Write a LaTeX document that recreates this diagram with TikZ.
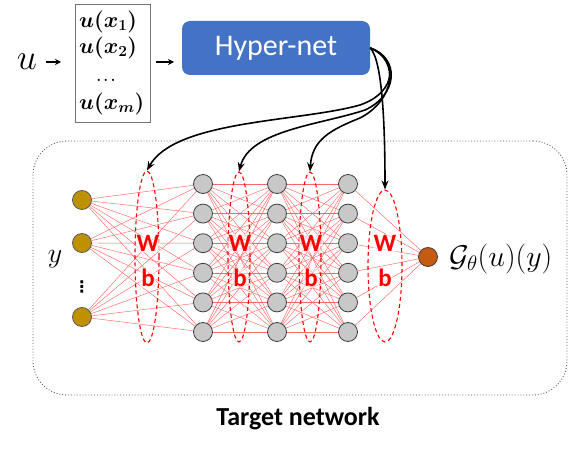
\RequirePackage{fix-cm}
\documentclass[tikz,border=0pt]{standalone}
\usepackage{fontspec}
\usepackage{bm}
\usetikzlibrary{arrows.meta,shapes.geometric}
\newfontfamily\calfont{Carlito}
\newfontfamily\dejafont{DejaVu Sans}
\definecolor{hnblue}{HTML}{4472C4}
\definecolor{ingold}{HTML}{BF9000}
\definecolor{outorange}{HTML}{C55A11}
\definecolor{hidgray}{HTML}{C8C8C8}
\pgfdeclarelayer{bg}
\pgfsetlayers{bg,main}
\tikzset{
  innode/.style={circle,fill=ingold,draw=black!65,line width=0.8pt,minimum size=19pt,inner sep=0pt},
  hidnode/.style={circle,fill=hidgray,draw=black!75,line width=0.8pt,minimum size=19pt,inner sep=0pt},
  outnode/.style={circle,fill=outorange,draw=black!75,line width=0.8pt,minimum size=19pt,inner sep=0pt},
  wbell/.style={ellipse,draw=red,dashed,line width=1.1pt,dash pattern=on 4pt off 3pt,inner sep=0pt},
  wblabel/.style={text=red,font=\calfont\fontsize{25}{27}\selectfont\bfseries,fill=white,fill opacity=0.55,text opacity=1,inner sep=1pt},
  conn/.style={red!60,line width=0.45pt},
  feed/.style={-{Stealth[length=9pt,width=7pt]},line width=1.6pt,black},
  small/.style={-{Stealth[length=6pt,width=6pt]},line width=1.3pt,black},
  listtxt/.style={font=\fontsize{22}{24}\selectfont,inner sep=0pt,anchor=west}
}
\begin{document}
\begin{tikzpicture}[x=1pt,y=-1pt]
\useasboundingbox (0,0) rectangle (582,457);
% target network frame
\node[draw=black!65,dotted,line width=0.9pt,rounded corners=34pt,minimum width=534pt,minimum height=254pt] (tn) at (300,268) {};
\node[font=\calfont\fontsize{26}{28}\selectfont\bfseries] (tnlabel) at (298,419) {Target network};
% input side
\node[font=\fontsize{36}{38}\selectfont,inner sep=0pt] (u) at (27,62) {$u$};
\node[draw=black!55,line width=0.8pt,minimum width=75pt,minimum height=118pt,inner sep=0pt] (lst) at (113,63) {};
\node[listtxt] (l1) at (79,22) {$\bm{u(x_1)}$};
\node[listtxt] (l2) at (79,48) {$\bm{u(x_2)}$};
\node[font=\fontsize{14}{16}\selectfont,inner sep=0pt] (l3) at (106,80) {$\bm{\ldots}$};
\node[listtxt] (l4) at (79,104) {$\bm{u(x_m)}$};
\node[fill=hnblue,rounded corners=8pt,minimum width=188pt,minimum height=54pt,text=white,font=\calfont\fontsize{30}{32}\selectfont] (hn) at (276,48) {Hyper-net};
\coordinate (a1s) at (46,62);
\coordinate (a1e) at (61,62);
\coordinate (a2s) at (156,62);
\coordinate (a2e) at (174,62);
\draw[small] (a1s) -- (a1e);
\draw[small] (a2s) -- (a2e);
% network nodes
\node[innode] (i1) at (82,200) {};
\node[innode] (i2) at (82,243) {};
\node[innode] (i3) at (82,317) {};
\node[font=\dejafont\bfseries\fontsize{16}{18}\selectfont,inner sep=0pt] (idots) at (82,287) {⋮};
\node[font=\fontsize{28}{30}\selectfont,inner sep=0pt] (ylab) at (55,259) {$y$};
\foreach \c/\x in {a/203,b/277,c/348}{
  \foreach \k in {1,...,6}{
    \pgfmathsetmacro{\yy}{184+(\k-1)*29.6}
    \node[hidnode] (\c\k) at (\x,\yy) {};
  }
}
\node[outnode] (o) at (428,257) {};
\node[font=\fontsize{30}{32}\selectfont,anchor=west,inner sep=0pt] (glab) at (449,259) {$\mathcal{G}_\theta(u)(y)$};
% connections
\begin{pgfonlayer}{bg}
\foreach \i in {1,2,3}{\foreach \k in {1,...,6}{\draw[conn] (i\i) -- (a\k);}}
\foreach \j in {1,...,6}{\foreach \k in {1,...,6}{\draw[conn] (a\j) -- (b\k); \draw[conn] (b\j) -- (c\k);}}
\foreach \k in {1,...,6}{\draw[conn] (c\k) -- (o);}
\end{pgfonlayer}
% W b ellipses
\node[wbell,minimum width=24pt,minimum height=172pt] (e1) at (147,257) {};
\node[wbell,minimum width=22pt,minimum height=170pt] (e2) at (239,257) {};
\node[wbell,minimum width=22pt,minimum height=170pt] (e3) at (310,257) {};
\node[wbell,minimum width=34pt,minimum height=152pt] (e4) at (385,266) {};
\foreach \e/\x in {1/148,2/240,3/311,4/385}{
  \node[wblabel] (w\e) at (\x,243) {W};
  \node[wblabel] (b\e) at (\x,278) {b};
}
% feed arrows from hyper-net
\draw[feed] (hn.east) .. controls (398,58) and (398,92) .. (360,105) .. controls (300,122) and (175,120) .. (e1.north);
\draw[feed] (hn.east) .. controls (400,58) and (398,95) .. (365,110) .. controls (320,125) and (250,130) .. (e2.north);
\draw[feed] (hn.east) .. controls (400,60) and (395,100) .. (360,118) .. controls (330,130) and (312,140) .. (e3.north);
\draw[feed] (hn.east) .. controls (382,60) and (385,120) .. (e4.north);
\end{tikzpicture}
\end{document}
